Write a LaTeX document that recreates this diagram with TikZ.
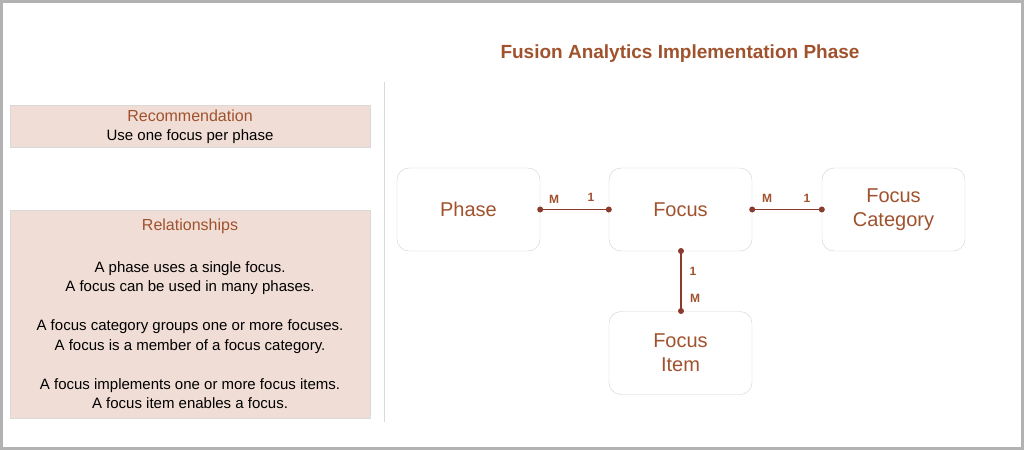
\documentclass[tikz,border=0pt]{standalone}
\usepackage{fontspec}
\setmainfont{Liberation Sans}
\begin{document}
\begin{tikzpicture}[x=1pt,y=-1pt,
  ent/.style={draw=black!18,rounded corners=12pt,fill=white,text=brn,font=\fontsize{20}{24}\selectfont,align=center,minimum width=143pt,minimum height=83pt,inner sep=0pt},
  note/.style={fill=pnk,draw=black!15,inner sep=0pt},
  lnk/.style={draw=rel,line width=1.5pt},
  dot/.style={circle,fill=rel,inner sep=0pt,minimum size=6pt},
  card/.style={text=brn,font=\bfseries\fontsize{12}{14}\selectfont,inner sep=0pt}]
\definecolor{brn}{HTML}{A0522D}
\definecolor{rel}{HTML}{8B3A2E}
\definecolor{pnk}{HTML}{F0DDD5}
\useasboundingbox (0,0) rectangle (1024,450);
\draw[black!30,line width=3pt] (1.5,1.5) rectangle (1022.5,448.5);
\node[text=brn,font=\bfseries\fontsize{19}{22}\selectfont] (title) at (680,54) {Fusion Analytics Implementation Phase};
\draw[black!15] (384,82) -- (384,422);
\node[note,minimum width=360pt,minimum height=42pt] (rec) at (190,126) {};
\node[text=brn,font=\fontsize{16}{19}\selectfont] (rect) at (190,116) {Recommendation};
\node[font=\fontsize{15}{18}\selectfont] (rectx) at (190,137) {Use one focus per phase};
\node[note,minimum width=360pt,minimum height=208pt] (relb) at (190,314) {};
\node[text=brn,font=\fontsize{16}{19}\selectfont] (relt) at (190,226) {Relationships};
\node[font=\fontsize{15}{19.5}\selectfont,align=center] (relx) at (190,335) {A phase uses a single focus.\\A focus can be used in many phases.\\[19.5pt]A focus category groups one or more focuses.\\A focus is a member of a focus category.\\[19.5pt]A focus implements one or more focus items.\\A focus item enables a focus.};
\node[ent] (phase) at (468.5,209.5) {Phase};
\node[ent] (focus) at (680.5,209.5) {Focus};
\node[ent] (cat) at (893.5,209.5) {Focus\\Category};
\node[ent] (item) at (680.5,353) {Focus\\Item};
\coordinate (fb) at (681,251);
\coordinate (it) at (681,311);
\draw[lnk] (phase.east) -- (focus.west);
\draw[lnk] (focus.east) -- (cat.west);
\draw[lnk] (fb) -- (it);
\foreach \p in {phase.east,focus.west,focus.east,cat.west,fb,it} \node[dot] at (\p) {};
\node[card] (m1) at (554,199) {M};
\node[card] (o1) at (591,197) {1};
\node[card] (m2) at (767,198) {M};
\node[card] (o2) at (807,198) {1};
\node[card] (o3) at (693,271) {1};
\node[card] (m3) at (695,298) {M};
\end{tikzpicture}
\end{document}
